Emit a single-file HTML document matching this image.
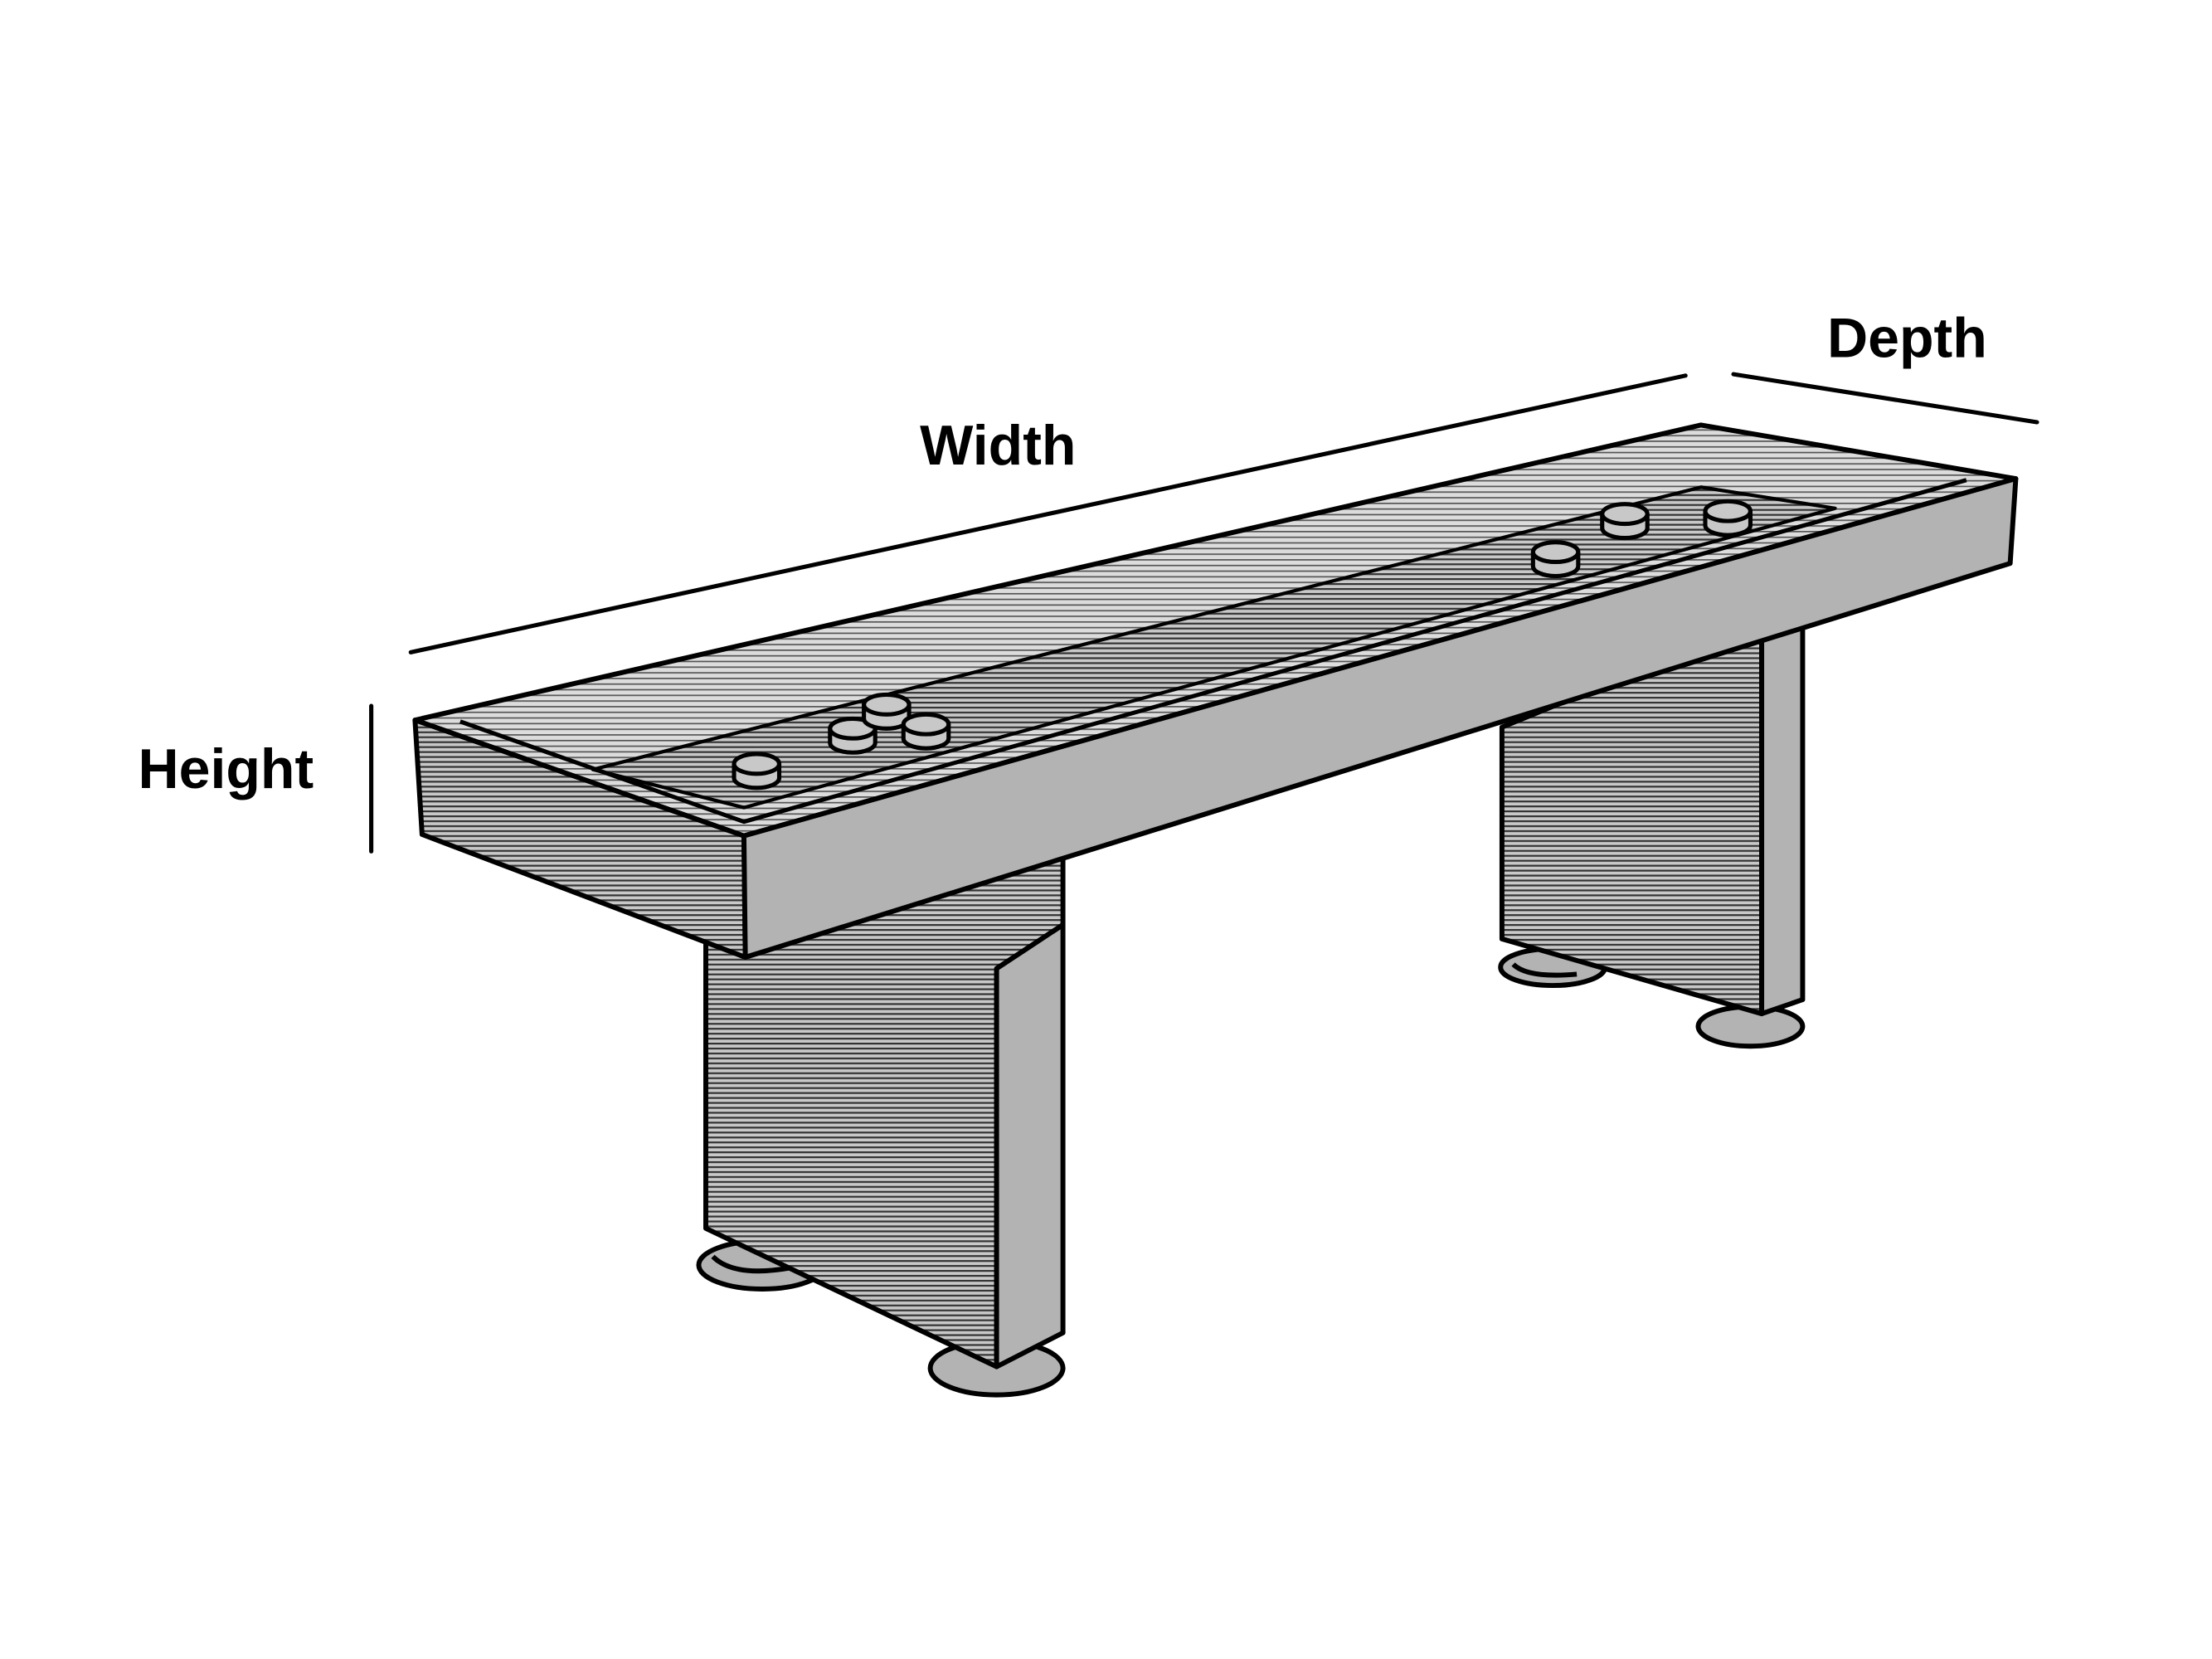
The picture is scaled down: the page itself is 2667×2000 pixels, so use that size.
<!DOCTYPE html>
<html><head><meta charset="utf-8"><style>
html,body{margin:0;padding:0;background:#fff;}
svg{display:block}
text{font-family:"Liberation Sans",sans-serif;font-weight:bold;font-size:40px;fill:#000}
</style></head><body>
<svg width="2667" height="2000" viewBox="0 0 1567 1175" xmlns="http://www.w3.org/2000/svg">
<defs>
<pattern id="h" width="8" height="3.5" patternUnits="userSpaceOnUse">
<rect width="8" height="3.5" fill="#c8c8c8"/><rect width="8" height="1.3" fill="#333"/>
</pattern>
<pattern id="h2" width="8" height="4" patternUnits="userSpaceOnUse">
<rect width="8" height="4" fill="#dcdcdc"/><rect width="8" height="1" fill="#555"/>
</pattern>
</defs>
<g stroke="#000" stroke-width="3" fill="none" stroke-linecap="round">
<line x1="291" y1="462" x2="1194" y2="266"/>
<line x1="1228" y1="265" x2="1443" y2="299"/>
<line x1="263" y1="500" x2="263" y2="603"/>
</g>
<text x="707" y="329" text-anchor="middle">Width</text>
<text x="1351" y="253" text-anchor="middle">Depth</text>
<text x="160" y="558" text-anchor="middle">Height</text>
<g stroke="#000" stroke-width="3.5" stroke-linejoin="round">
<!-- back leg -->
<ellipse cx="1100" cy="685" rx="37" ry="13" fill="#b3b3b3"/>
<path d="M1072,683 q10,10 45,7" fill="none"/>
<ellipse cx="1240" cy="727" rx="37" ry="14" fill="#b3b3b3"/>
<polygon points="1064,515 1248,440 1248,718 1064,665" fill="url(#h)"/>
<polygon points="1248,440 1277,425 1277,708 1248,718" fill="#b3b3b3"/>
<!-- front leg -->
<ellipse cx="540" cy="896" rx="45" ry="17" fill="#b3b3b3"/>
<path d="M505,890 q15,15 55,8" fill="none"/>
<ellipse cx="706" cy="969" rx="47" ry="19" fill="#b3b3b3"/>
<polygon points="500,660 753,600 753,655 706,686 706,968 500,870" fill="url(#h)"/>
<polygon points="706,686 753,655 753,944 706,968" fill="#b3b3b3"/>
<!-- top -->
<polygon points="294,510 1205,301 1428,339 527,592" fill="url(#h2)"/>
<polygon points="294,510 527,592 528,678 299,591" fill="url(#h)"/>
<polygon points="527,592 1428,339 1424,399 528,678" fill="#b3b3b3"/>
<polygon points="420,545 1205,345 1300,360 527,572" fill="url(#h)" stroke-width="2.5"/>
<polyline points="326,511 527,582 1393,340" fill="none" stroke-width="3"/>
</g>
<g stroke="#000" stroke-width="3" fill="#c8c8c8">
<g transform="translate(536,541)"><path d="M-16,0 v10 a16,7 0 0 0 32,0 v-10"/><ellipse cx="0" cy="0" rx="16" ry="7"/></g>
<g transform="translate(604,516)"><path d="M-16,0 v10 a16,7 0 0 0 32,0 v-10"/><ellipse cx="0" cy="0" rx="16" ry="7"/></g>
<g transform="translate(628,499)"><path d="M-16,0 v10 a16,7 0 0 0 32,0 v-10"/><ellipse cx="0" cy="0" rx="16" ry="7"/></g>
<g transform="translate(656,513)"><path d="M-16,0 v10 a16,7 0 0 0 32,0 v-10"/><ellipse cx="0" cy="0" rx="16" ry="7"/></g>
<g transform="translate(1102,391)"><path d="M-16,0 v10 a16,7 0 0 0 32,0 v-10"/><ellipse cx="0" cy="0" rx="16" ry="7"/></g>
<g transform="translate(1151,364)"><path d="M-16,0 v10 a16,7 0 0 0 32,0 v-10"/><ellipse cx="0" cy="0" rx="16" ry="7"/></g>
<g transform="translate(1224,362)"><path d="M-16,0 v10 a16,7 0 0 0 32,0 v-10"/><ellipse cx="0" cy="0" rx="16" ry="7"/></g>
</g>
</svg>
</body></html>
